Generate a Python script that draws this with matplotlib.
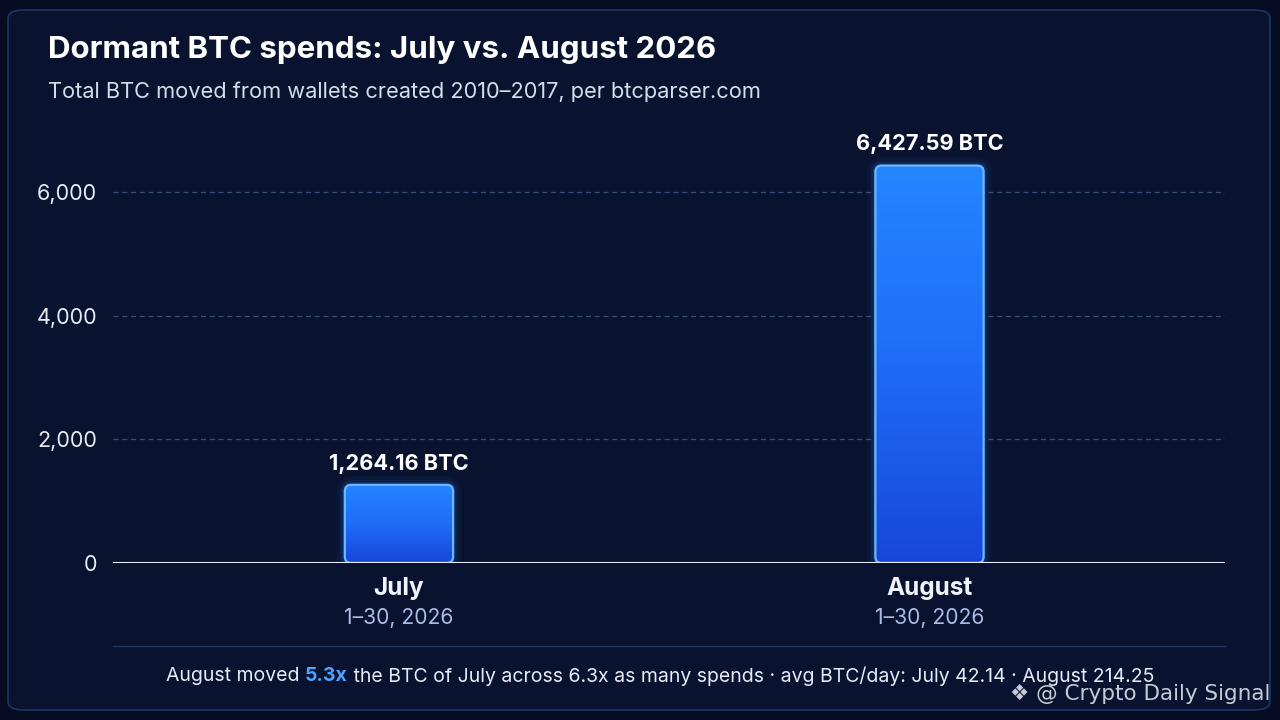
import numpy as np
import matplotlib.pyplot as plt
from matplotlib.patches import FancyBboxPatch
from matplotlib.colors import LinearSegmentedColormap
import matplotlib.transforms as mtransforms

plt.rcParams['font.family'] = ['Inter', 'DejaVu Sans']

months = ['July', 'August']
periods = ['1\u201330, 2026', '1\u201330, 2026']
btc_moved = [1264.16, 6427.59]
yticks = [0, 2000, 4000, 6000]

title = 'Dormant BTC spends: July vs. August 2026'
subtitle = 'Total BTC moved from wallets created 2010\u20132017, per btcparser.com'
footer_parts = [('August moved ', '#e6ebf5', 'normal'),
                ('5.3x', '#4da3ff', 'bold'),
                (' the BTC of July across 6.3x as many spends \u00b7 avg BTC/day: July 42.14 \u00b7 August 214.25',
                 '#e6ebf5', 'normal')]

BG = '#050b20'
PANEL = '#091330'

fig = plt.figure(figsize=(12.8, 7.2), dpi=100, facecolor=BG)

# rounded panel behind everything
panel = FancyBboxPatch((8 / 1280, 10 / 720), 1262 / 1280, 700 / 720,
                       boxstyle='round,pad=0,rounding_size=0.012',
                       transform=fig.transFigure, facecolor=PANEL,
                       edgecolor='#1f3466', linewidth=1.2, zorder=-10)
fig.patches.append(panel)

fig.text(48 / 1280, 1 - 50 / 720, title, fontsize=22.5, fontweight='bold',
         color='white', va='center', ha='left')
fig.text(48 / 1280, 1 - 92 / 720, subtitle, fontsize=15.7, color='#d5dcea',
         va='center', ha='left')

ax = fig.add_axes([113 / 1280, 1 - 563 / 720, 1112 / 1280, 433 / 720])
ax.set_zorder(2)
ax.set_facecolor('none')
x = np.arange(len(months))
ax.set_xlim(-0.539, 1.557)
ax.set_ylim(0, 7003)
for s in ax.spines.values():
    s.set_visible(False)
ax.axhline(0, color='#e8edf7', linewidth=1.5, zorder=5)
for t in yticks[1:]:
    ax.axhline(t, color='#3a4d75', linewidth=0.9, linestyle=(0, (4, 3)), zorder=1)
ax.set_yticks(yticks)
ax.set_yticklabels([f'{t:,}' for t in yticks], fontsize=15.5, color='#e6ebf5')
ax.tick_params(axis='y', length=0, pad=11.5)
ax.set_xticks([])

# bars with gradient fill
width = 0.204
bars = ax.bar(x, btc_moved, width=width, color='none', edgecolor='none')
aspect = (7003 / 433) / (2.096 / 1112)
grad = np.linspace(0, 1, 256).reshape(-1, 1)
cmap = LinearSegmentedColormap.from_list('barg', ['#1747d8', '#1f6cf6', '#2486ff'])
for b in bars:
    x0, w, h = b.get_x(), b.get_width(), b.get_height()
    for lw, a in [(12, 0.05), (7, 0.09), (3.5, 0.16)]:
        glow = FancyBboxPatch((x0, 0), w, h,
                              boxstyle='round,pad=0,rounding_size=0.012',
                              mutation_aspect=aspect, facecolor='none',
                              edgecolor='#2a7dff', linewidth=lw, alpha=a, zorder=2)
        ax.add_patch(glow)
    patch = FancyBboxPatch((x0, 0), w, h,
                           boxstyle='round,pad=0,rounding_size=0.012',
                           mutation_aspect=aspect, facecolor='none',
                           edgecolor='#6ab8ff', linewidth=1.6, zorder=4)
    ax.add_patch(patch)
    im = ax.imshow(grad, extent=[x0, x0 + w, 0, h], origin='lower', cmap=cmap,
                   aspect='auto', zorder=3)
    im.set_clip_path(patch)
    ax.text(b.get_x() + w / 2, h + 180, f'{h:,.2f} BTC', ha='center', va='bottom',
            fontsize=15.7, fontweight='bold', color='white', zorder=6)

trans = mtransforms.blended_transform_factory(ax.transData, fig.transFigure)
for xi, m, p in zip(x, months, periods):
    ax.text(xi, 1 - 588 / 720, m, transform=trans, ha='center', va='center',
            fontsize=17.5, fontweight='bold', color='#f0f3fa')
    ax.text(xi, 1 - 618 / 720, p, transform=trans, ha='center', va='center',
            fontsize=15.2, color='#a9bde3')

# footer separator
fig.add_artist(plt.Line2D([113 / 1280, 1225 / 1280], [1 - 646 / 720] * 2,
                          transform=fig.transFigure, color='#22365f', linewidth=1))

# footer text, pieces laid out left to right
fig.canvas.draw()
renderer = fig.canvas.get_renderer()
xpos = 166
for txt, col, wt in footer_parts:
    t = fig.text(xpos / 1280, 1 - 676 / 720, txt, fontsize=14, color=col,
                 fontweight=wt, ha='left', va='center')
    xpos += t.get_window_extent(renderer).width

fig.text(1270 / 1280, 1 - 694 / 720, '\u2756 @ Crypto Daily Signal', fontsize=15.5,
         color='#e8ecf4', alpha=0.85, ha='right', va='center',
         family=['DejaVu Sans'])

fig.savefig('out.png', dpi=100, facecolor=BG)
